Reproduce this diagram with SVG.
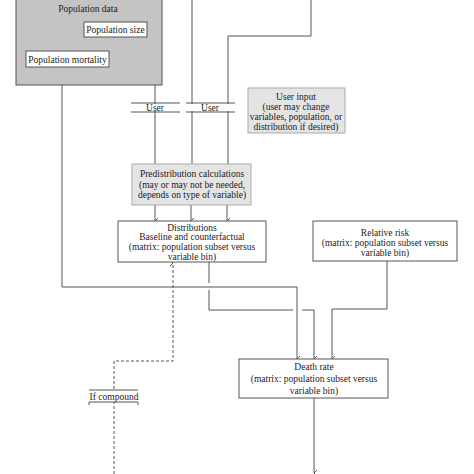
<svg xmlns="http://www.w3.org/2000/svg" width="474" height="474" viewBox="0 0 474 474">
<style>
text{font-family:"Liberation Serif","Times New Roman",serif;font-size:9.5px;fill:#222;text-anchor:middle}
.box{fill:#fff;stroke:#555;stroke-width:1}
.lbox{fill:#e4e4e4;stroke:#aaa;stroke-width:1}
.c{fill:none;stroke:#555;stroke-width:1}
.d{fill:none;stroke:#555;stroke-width:1;stroke-dasharray:3,2}
.lab{fill:#fff;stroke:none}
</style>
<defs>
<marker id="ar" markerUnits="userSpaceOnUse" markerWidth="8" markerHeight="8" refX="4" refY="7" orient="auto" viewBox="0 0 8 8">
<path d="M1,4 L4,7 L7,4" fill="none" stroke="#555" stroke-width="1"/>
</marker>
</defs>

<g id="connectors">
<path class="c" d="M114,37 V80 H155 V164"/>
<path class="c" d="M192,0 V164"/>
<path class="c" d="M311,0 V36 H228 V164"/>
<path class="c" d="M155,205 V221" marker-end="url(#ar)"/>
<path class="c" d="M191,205 V221" marker-end="url(#ar)"/>
<path class="c" d="M227,205 V221" marker-end="url(#ar)"/>
<path class="c" d="M62,85 V287 H297 V359" marker-end="url(#ar)"/>
<path class="c" d="M209,262 V283"/>
<path class="c" d="M209,290 V310 H293"/>
<path class="c" d="M302,310 H314 V359" marker-end="url(#ar)"/>
<path class="c" d="M387,261 V309 H332 V359" marker-end="url(#ar)"/>
<path class="c" d="M314,398 V473" marker-end="url(#ar)"/>
<path class="d" d="M114,474 V361 H173 V263" marker-end="url(#ar)"/>
</g>

<g id="population-data">
<rect x="16" y="-5" width="146" height="90" fill="#c4c4c4" stroke="#555" stroke-width="1"/>
<text x="88" y="12">Population data</text>
</g>
<g id="population-size">
<rect class="box" x="84" y="22" width="63" height="15"/>
<text x="115.5" y="33">Population size</text>
</g>
<g id="population-mortality">
<rect class="box" x="26" y="51" width="83" height="16"/>
<text x="67.5" y="62.5">Population mortality</text>
</g>

<g id="user-1">
<rect class="lab" x="132" y="104" width="48" height="7"/>
<line class="c" x1="131" y1="103" x2="180" y2="103"/>
<line class="c" x1="131" y1="112" x2="180" y2="112"/>
<text x="155" y="110.5">User</text>
</g>
<g id="user-2">
<rect class="lab" x="187" y="104" width="47" height="7"/>
<line class="c" x1="186" y1="103" x2="235" y2="103"/>
<line class="c" x1="186" y1="112" x2="235" y2="112"/>
<text x="210" y="110.5">User</text>
</g>

<g id="user-input">
<rect class="lbox" x="248" y="88" width="97" height="45"/>
<text x="296" y="99.5">User input</text>
<text x="296" y="110">(user may change</text>
<text x="296" y="120">variables, population, or</text>
<text x="296" y="130">distribution if desired)</text>
</g>

<g id="predistribution">
<rect class="lbox" x="132" y="164" width="119" height="41"/>
<text x="192" y="177">Predistribution calculations</text>
<text x="192" y="187.5">(may or may not be needed,</text>
<text x="192" y="198">depends on type of variable)</text>
</g>

<g id="distributions">
<rect class="box" x="118" y="221" width="148" height="41"/>
<text x="192" y="230.5">Distributions</text>
<text x="192" y="240">Baseline and counterfactual</text>
<text x="192" y="250">(matrix: population subset versus</text>
<text x="192" y="260">variable bin)</text>
</g>

<g id="relative-risk">
<rect class="box" x="313" y="221" width="144" height="40"/>
<text x="385" y="236">Relative risk</text>
<text x="385" y="246">(matrix: population subset versus</text>
<text x="385" y="256">variable bin)</text>
</g>

<g id="death-rate">
<rect class="box" x="239" y="359" width="149" height="39"/>
<text x="314" y="369.5">Death rate</text>
<text x="314" y="381.5">(matrix: population subset versus</text>
<text x="314" y="393.5">variable bin)</text>
</g>

<g id="if-compound">
<rect class="lab" x="90" y="391" width="48" height="11"/>
<line class="c" x1="89" y1="390" x2="138" y2="390"/>
<path class="c" d="M89,405 V402 H138 V405"/>
<text x="114" y="399.5">If compound</text>
</g>
</svg>
